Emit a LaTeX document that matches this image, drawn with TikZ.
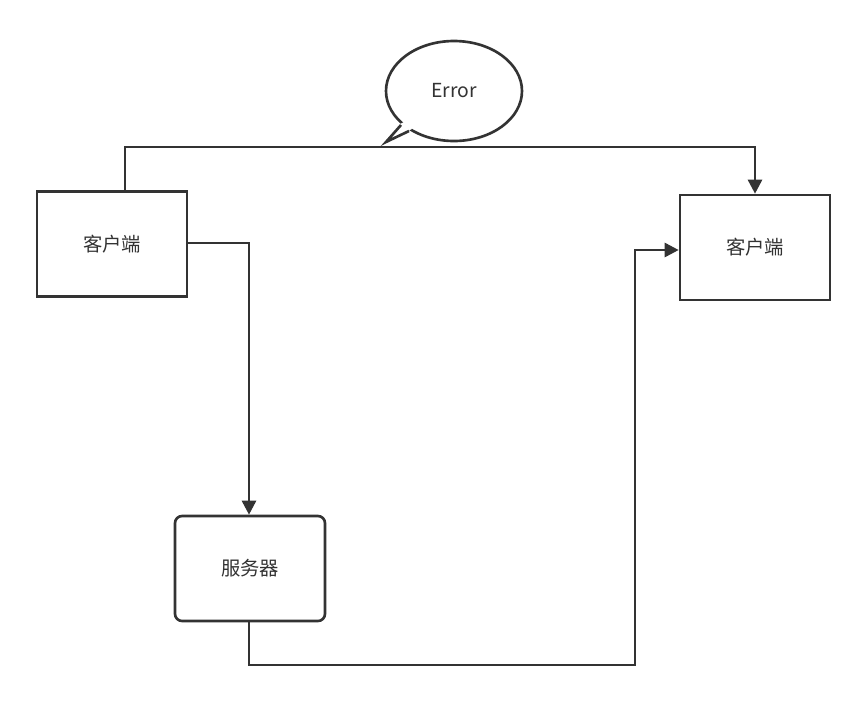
\documentclass[tikz,border=0pt]{standalone}
\usepackage{fontspec}
\setmainfont{Noto Sans CJK SC}
\usetikzlibrary{arrows.meta}
\definecolor{ln}{HTML}{333333}
\tikzset{
 box/.style={draw=ln,line width=1.5pt,minimum width=3cm,minimum height=2.1cm,font=\fontsize{11}{13}\selectfont,text=ln},
 conn/.style={draw=ln,line width=1.5pt,-{Triangle[length=8pt,width=8pt]}},
}
\begin{document}
\begin{tikzpicture}[x=0.02cm,y=-0.02cm]
\useasboundingbox (0,0) rectangle (868,704);
\node[box] (c1) at (112,244) {客户端};
\node[box] (c2) at (755,247.5) {客户端};
\node[box,rounded corners=4pt] (s) at (250,568.5) {服务器};
\draw[conn] (c1.north -| 125,0) -- (125,147) -- (755,147) -- (c2.north);
\draw[conn] (c1.east |- 0,243) -- (249,243) -- (s.north -| 249,0);
\draw[conn] (s.south -| 249,0) -- (249,665) -- (635,665) -- (635,250) -- (c2.west |- 0,250);
\draw[ln,line width=1.5pt,fill=white] (454,91) ellipse [x radius=68, y radius=50];
\fill[white] (400,124) -- (388,140) -- (412,129) -- (408,120) -- cycle;
\draw[ln,line width=1.5pt,line join=miter] (401,125) -- (386,142) -- (409,131);
\node[text=ln,font=\fontsize{11}{13}\selectfont] (err) at (454,91) {Error};
\end{tikzpicture}
\end{document}
